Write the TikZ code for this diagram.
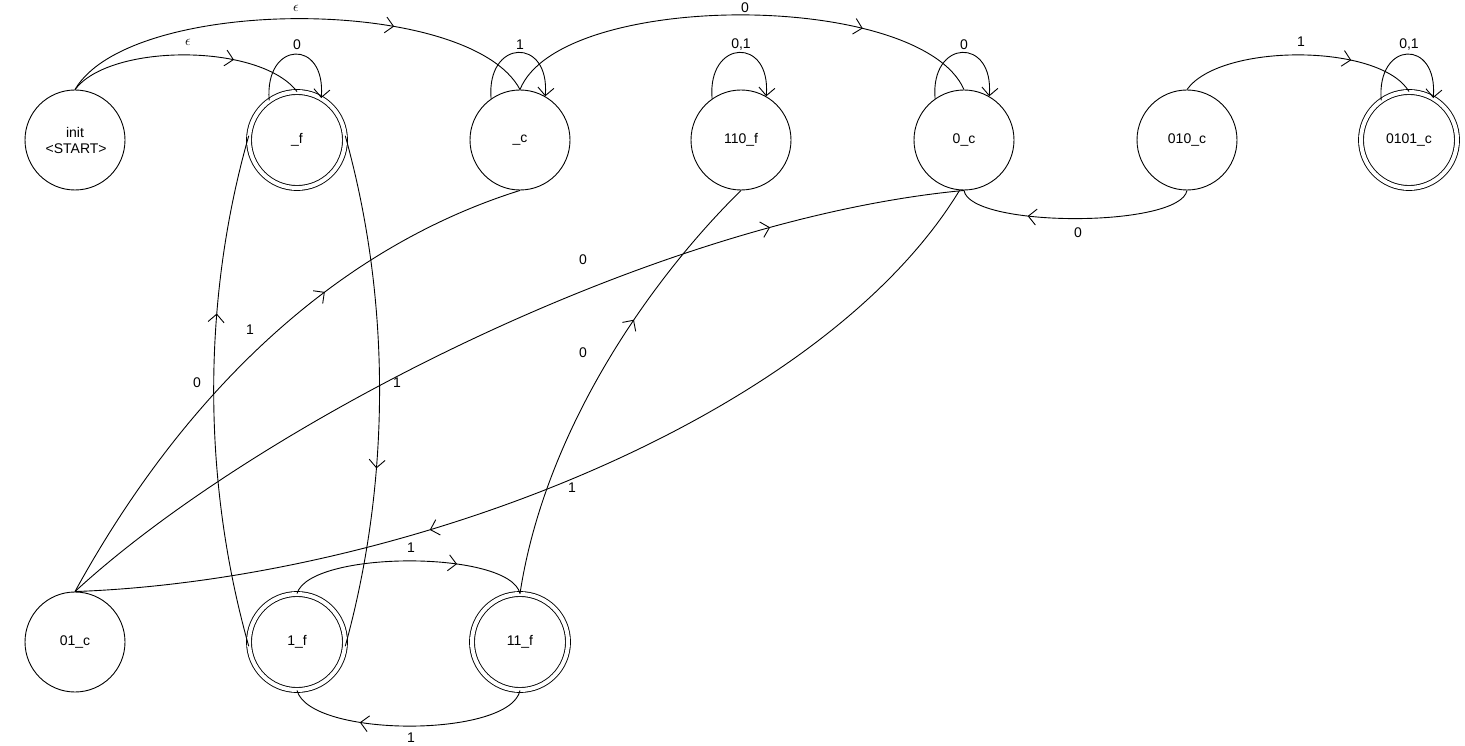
\documentclass[tikz,border=0pt]{standalone}
\usepackage{fontspec}
\setmainfont{Liberation Sans}
\usetikzlibrary{arrows.meta,decorations.markings}
\tikzset{
 st/.style={circle,draw,minimum size=100pt,inner sep=0pt,font=\fontsize{14}{16}\selectfont,align=center},
 acc/.style={st,double,double distance=4pt,minimum size=96pt},
 lab/.style={font=\fontsize{14}{16}\selectfont,inner sep=1pt},
 mid/.style={postaction={decorate},decoration={markings,mark=at position #1 with {\arrow{Straight Barb[length=8pt,width=16pt]}}}},
 loopend/.style={-{Straight Barb[length=8pt,width=16pt]}}
}
\begin{document}
\begin{tikzpicture}[x=1pt,y=-1pt,line width=0.9pt]
\useasboundingbox (0,0) rectangle (1465,746);
\node[st] (init) at (75,140) {init\\\,<START>};
\node[acc] (f) at (297,140) {\_f};
\node[st] (c) at (520,140) {\_c};
\node[st] (f110) at (741,140) {110\_f};
\node[st] (c0) at (964,140) {0\_c};
\node[st] (c010) at (1187,140) {010\_c};
\node[acc] (c0101) at (1409,140) {0101\_c};
\node[st] (c01) at (75,642) {01\_c};
\node[acc] (f1) at (297,642) {1\_f};
\node[acc] (f11) at (520,642) {11\_f};

\draw[mid=0.7] (init.north) .. controls (110,43) and (260,43) .. (f.north);
\node[lab] (l1) at (188,42) {$\epsilon$};
\draw[mid=0.7] (init.north) .. controls (130,-5) and (470,-5) .. (c.north);
\node[lab] (l2) at (296,8) {$\epsilon$};
\draw[mid=0.75] (c.north) .. controls (560,-10) and (920,-10) .. (c0.north);
\node[lab] (l3) at (745,8) {0};
\draw[mid=0.72] (c010.north) .. controls (1220,43) and (1380,43) .. (c0101.north);
\node[lab] (l4) at (1301,42) {1};

\foreach \n in {f, c, f110, c0, c0101}{
  \draw[loopend] (\n.125) .. controls +(-5,-60) and +(5,-60) .. (\n.60);
}
\node[lab] (s1) at (297,45) {0};
\node[lab] (s2) at (520,45) {1};
\node[lab] (s3) at (741,45) {0,1};
\node[lab] (s4) at (964,45) {0};
\node[lab] (s5) at (1409,45) {0,1};

\draw[mid=0.7] (c010.south) .. controls (1180,228) and (970,228) .. (c0.south);
\node[lab] (l5) at (1078,233) {0};
\draw[mid=0.65] (f.5) .. controls (391,300) and (391,480) .. (f1.355);
\node[lab] (l6) at (397,383) {1};
\draw[mid=0.65] (f1.185) .. controls (202,480) and (202,300) .. (f.175);
\node[lab] (l7) at (197,383) {0};
\draw[mid=0.7] (f1.north) .. controls (310,550) and (510,550) .. (f11.north);
\node[lab] (l8) at (411,548) {1};
\draw[mid=0.7] (f11.south) .. controls (510,738) and (310,738) .. (f1.south);
\node[lab] (l9) at (411,738) {1};
\draw[mid=0.64] (f11.north) .. controls (545,430) and (650,280) .. (f110.south);
\node[lab] (l10) at (583,353) {0};
\draw[mid=0.64] (c01.north) .. controls (180,400) and (330,250) .. (c.south);
\node[lab] (l11) at (250,330) {1};
\draw[mid=0.8] (c01.north) .. controls (250,430) and (650,220) .. (c0.south);
\node[lab] (l12) at (583,260) {0};
\draw[mid=0.64] (c0.265) .. controls (820,420) and (400,580) .. (c01.north);
\node[lab] (l13) at (572,488) {1};
\end{tikzpicture}
\end{document}
